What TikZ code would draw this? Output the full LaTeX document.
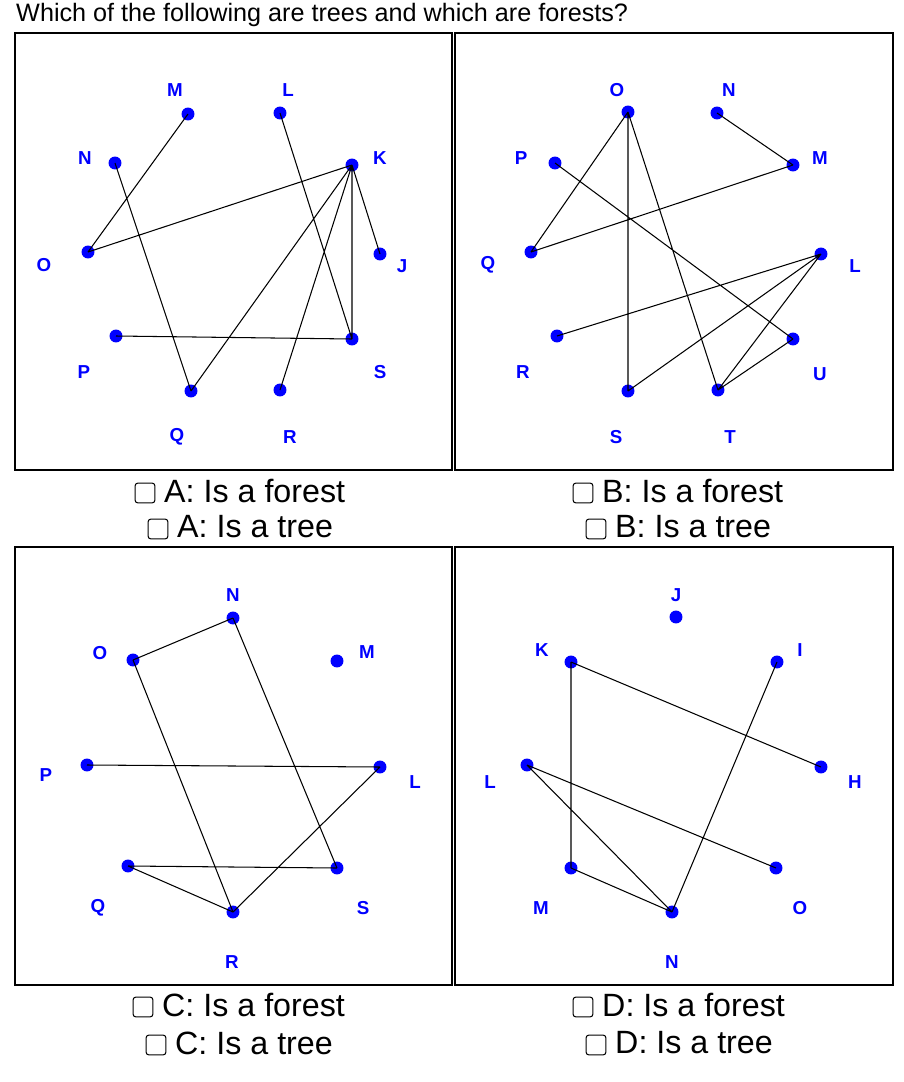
\documentclass[tikz,border=0pt]{standalone}
\usepackage{fontspec}
\setmainfont{Liberation Sans}
\begin{document}
\begin{tikzpicture}[x=0.03cm,y=-0.03cm,
  v/.style={circle,fill=blue,inner sep=0pt,minimum size=13*0.85pt},
  lb/.style={text=blue,font=\fontsize{16}{16}\selectfont\bfseries},
  e/.style={black,line width=0.9pt},
  panel/.style={draw=black,line width=1.2pt},
  cb/.style={draw=black,rounded corners=2.5pt,minimum size=20*0.85pt,inner sep=0pt,line width=0.9pt},
  opt/.style={anchor=west,font=\fontsize{27.5}{27.5}\selectfont,inner sep=0pt}]
\useasboundingbox (0,0) rectangle (904,1082);
\node[anchor=west,font=\fontsize{21.5}{21.5}\selectfont,inner sep=0pt] (title) at (16,15) {Which of the following are trees and which are forests?};
\draw[panel] (15,33) rectangle (452,470);
\draw[panel] (455,33) rectangle (893,470);
\draw[panel] (15,547) rectangle (452,985);
\draw[panel] (455,547) rectangle (893,985);
% Panel A
\node[v] (aM) at (188,114) {}; \node[lb] at (175,90) {M};
\node[v] (aL) at (280,113) {}; \node[lb] at (288,90) {L};
\node[v] (aN) at (115,163) {}; \node[lb] at (85,158) {N};
\node[v] (aK) at (352,165) {}; \node[lb] at (380,158) {K};
\node[v] (aJ) at (380,254) {}; \node[lb] at (402,266) {J};
\node[v] (aO) at (88,252) {}; \node[lb] at (44,265) {O};
\node[v] (aP) at (116,336) {}; \node[lb] at (84,372) {P};
\node[v] (aS) at (352,339) {}; \node[lb] at (380,372) {S};
\node[v] (aQ) at (191,391) {}; \node[lb] at (177,437) {Q};
\node[v] (aR) at (280,390) {}; \node[lb] at (290,437) {R};
\draw[e] (aM.center)--(aO.center) (aN.center)--(aQ.center) (aL.center)--(aS.center)
 (aK.center)--(aO.center) (aK.center)--(aJ.center) (aK.center)--(aS.center)
 (aK.center)--(aQ.center) (aK.center)--(aR.center) (aP.center)--(aS.center);
% Panel B
\node[v] (bO) at (628,112) {}; \node[lb] at (617,90) {O};
\node[v] (bN) at (717,113) {}; \node[lb] at (729,90) {N};
\node[v] (bP) at (555,163) {}; \node[lb] at (521,158) {P};
\node[v] (bM) at (793,165) {}; \node[lb] at (820,158) {M};
\node[v] (bQ) at (531,252) {}; \node[lb] at (488,265) {Q};
\node[v] (bL) at (821,254) {}; \node[lb] at (855,266) {L};
\node[v] (bR) at (557,336) {}; \node[lb] at (523,372) {R};
\node[v] (bU) at (793,339) {}; \node[lb] at (820,374) {U};
\node[v] (bS) at (628,391) {}; \node[lb] at (616,437) {S};
\node[v] (bT) at (718,390) {}; \node[lb] at (730,437) {T};
\draw[e] (bO.center)--(bQ.center) (bO.center)--(bS.center) (bO.center)--(bT.center)
 (bN.center)--(bM.center) (bM.center)--(bQ.center) (bP.center)--(bU.center)
 (bR.center)--(bL.center) (bL.center)--(bS.center) (bL.center)--(bT.center) (bT.center)--(bU.center);
% Panel C
\node[v] (cN) at (233,618) {}; \node[lb] at (233,595) {N};
\node[v] (cO) at (133,660) {}; \node[lb] at (100,653) {O};
\node[v] (cM) at (337,661) {}; \node[lb] at (367,652) {M};
\node[v] (cP) at (87,765) {}; \node[lb] at (46,775) {P};
\node[v] (cL) at (380,767) {}; \node[lb] at (415,782) {L};
\node[v] (cQ) at (128,866) {}; \node[lb] at (98,908) {Q};
\node[v] (cS) at (337,868) {}; \node[lb] at (363,908) {S};
\node[v] (cR) at (233,912) {}; \node[lb] at (232,962) {R};
\draw[e] (cO.center)--(cN.center) (cN.center)--(cS.center) (cO.center)--(cR.center)
 (cP.center)--(cL.center) (cL.center)--(cR.center) (cQ.center)--(cS.center) (cQ.center)--(cR.center);
% Panel D
\node[v] (dJ) at (676,617) {}; \node[lb] at (676,595) {J};
\node[v] (dK) at (571,662) {}; \node[lb] at (542,650) {K};
\node[v] (dI) at (777,662) {}; \node[lb] at (800,650) {I};
\node[v] (dL) at (527,765) {}; \node[lb] at (490,782) {L};
\node[v] (dH) at (821,767) {}; \node[lb] at (855,782) {H};
\node[v] (dM) at (571,868) {}; \node[lb] at (541,908) {M};
\node[v] (dO) at (776,868) {}; \node[lb] at (800,908) {O};
\node[v] (dN) at (672,912) {}; \node[lb] at (672,962) {N};
\draw[e] (dK.center)--(dH.center) (dK.center)--(dM.center) (dI.center)--(dN.center)
 (dL.center)--(dO.center) (dL.center)--(dN.center) (dM.center)--(dN.center);
% options
\node[cb] (c1) at (145,493) {}; \node[opt] at (164,491) {A: Is a forest};
\node[cb] (c2) at (158,529) {}; \node[opt] at (177,527) {A: Is a tree};
\node[cb] (c3) at (583,493) {}; \node[opt] at (602,491) {B: Is a forest};
\node[cb] (c4) at (596,529) {}; \node[opt] at (615,527) {B: Is a tree};
\node[cb] (c5) at (143,1007) {}; \node[opt] at (162,1005) {C: Is a forest};
\node[cb] (c6) at (156,1045) {}; \node[opt] at (175,1043) {C: Is a tree};
\node[cb] (c7) at (583,1007) {}; \node[opt] at (602,1005) {D: Is a forest};
\node[cb] (c8) at (596,1045) {}; \node[opt] at (615,1043) {D: Is a tree};
\end{tikzpicture}
\end{document}
